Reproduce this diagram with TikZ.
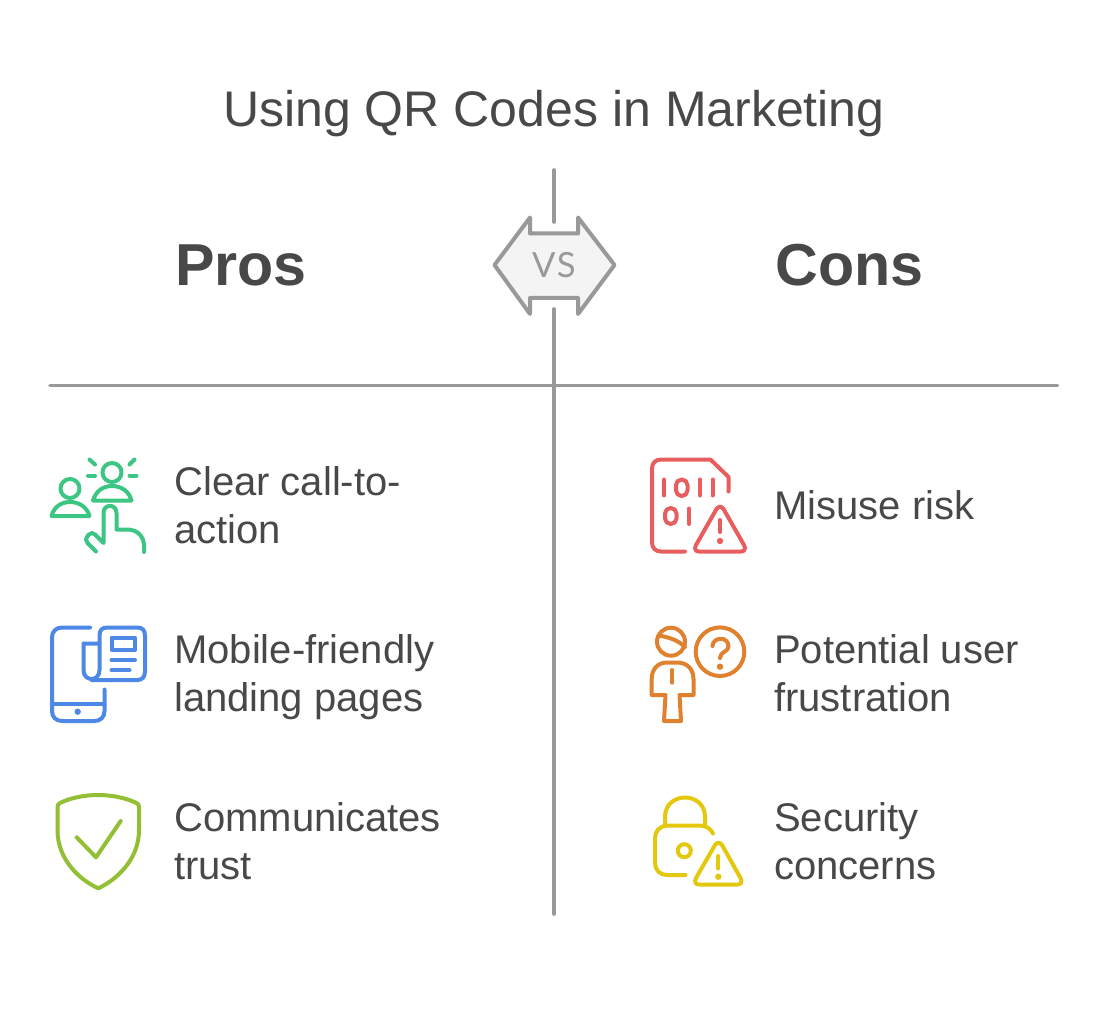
\documentclass[tikz,border=0pt]{standalone}
\usepackage{fontspec}
\setmainfont{Liberation Sans}
\newfontfamily\vsfont{Lato}
\definecolor{txt}{HTML}{484848}
\definecolor{rule}{HTML}{999999}
\definecolor{vsfill}{HTML}{F4F4F4}
\definecolor{igreen}{HTML}{3CC583}
\definecolor{iblue}{HTML}{4E88E7}
\definecolor{iolive}{HTML}{93BF35}
\definecolor{ired}{HTML}{E85E5E}
\definecolor{iorange}{HTML}{E0812F}
\definecolor{iyellow}{HTML}{E3C80D}
\tikzset{
  px/.style={x=0.75pt,y=-0.75pt},
  titletext/.style={inner sep=0pt,anchor=base,text=txt,font=\fontsize{37.5}{44}\selectfont},
  headtext/.style={inner sep=0pt,anchor=base west,text=txt,font=\fontsize{44.4}{54}\selectfont\bfseries},
  itemtext/.style={inner sep=0pt,anchor=west,align=left,text=txt,font=\fontsize{30}{36}\selectfont},
  rulel/.style={draw=rule,line width=2.7pt},
  iconl/.style={line width=3pt,line cap=round,line join=round},
}
\begin{document}
\begin{tikzpicture}[px]
\useasboundingbox (0,0) rectangle (1109,1012);
\node[titletext] (title) at (554,127) {Using QR Codes in Marketing};
\node[headtext] (pros) at (175,286) {Pros};
\node[headtext] (cons) at (775,286) {Cons};

% rules
\coordinate (vtop) at (554,170);
\coordinate (vtopend) at (554,222);
\coordinate (vbot) at (554,914);
\coordinate (vbotstart) at (554,309);
\coordinate (hl) at (50,385.5);
\coordinate (hr) at (1057.5,385.5);
\draw[rulel,line cap=round] (vtop) -- (vtopend);
\draw[rulel,line cap=round] (vbotstart) -- (vbot);
\draw[rulel,line cap=round] (hl) -- (hr);

% vs badge
\draw[rule,fill=vsfill,line width=3pt,line join=round]
  (494.5,265) -- (530,217.5) -- (530,233.5) -- (578,233.5) -- (578,217.5) -- (614.5,265)
  -- (578,314) -- (578,298) -- (530,298) -- (530,314) -- cycle;
\node[inner sep=0pt,text=rule,font=\fontsize{26}{30}\selectfont\vsfont] (vs) at (554,265.5) {V\kern1pt S};

% items
\node[itemtext] (i1) at (174,505) {Clear call-to-\\action};
\node[itemtext] (i2) at (174,677) {Mobile-friendly\\landing pages};
\node[itemtext] (i3) at (174,841) {Communicates\\trust};
\node[itemtext] (i4) at (774,505) {Misuse risk};
\node[itemtext] (i5) at (774,673) {Potential user\\frustration};
\node[itemtext] (i6) at (774,841) {Security\\concerns};

% icon 1: people and hand
\begin{scope}[iconl]
\draw[igreen] (70,488.5) circle (9.5);
\draw[igreen] (51.5,516) .. controls (54,507) and (61,502) .. (70,502) .. controls (79,502) and (87,507) .. (89.5,516) -- cycle;
\draw[igreen] (112,472.5) circle (9.5);
\draw[igreen] (93,500.5) .. controls (96,491) and (103,486) .. (112,486) .. controls (121,486) and (129,491) .. (131.5,500.5) -- cycle;
\draw[igreen] (89.5,459.5) -- (95,464.5);
\draw[igreen] (134.5,459.5) -- (129.5,464.5);
\draw[igreen] (88,475.5) -- (95,475.5);
\draw[igreen] (129.5,475.5) -- (136.5,475.5);
\draw[igreen] (96,551.5) -- (87.5,543) .. controls (85.5,541) and (85.5,538) .. (87.5,536) -- (89,534.5) .. controls (91,532.5) and (93,532.5) .. (95,534.5) -- (103.5,543)
  -- (103.5,513) .. controls (103.5,503.5) and (116.5,503.5) .. (116.5,513) -- (116.5,529.5) -- (127,529.5) .. controls (137,529.5) and (144,536) .. (144,546) -- (144,552);
\end{scope}

% icon 2: phone and newspaper
\begin{scope}[iconl]
\draw[iblue] (90,627.5) -- (62,627.5) .. controls (56,627.5) and (52,631.5) .. (52,637.5) -- (52,711) .. controls (52,717) and (56,721) .. (62,721) -- (94.5,721) .. controls (100.5,721) and (104.5,717) .. (104.5,711) -- (104.5,689.5);
\draw[iblue] (52,704) -- (104.5,704);
\fill[iblue] (77.7,711.7) circle (3.2);
\draw[iblue] (98.5,643.5) -- (83.5,643.5) -- (83.5,670) .. controls (83.5,682) and (99.5,682) .. (99.5,670) -- (99.5,636) .. controls (99.5,630) and (102,627.5) .. (107.5,627.5) -- (137,627.5) .. controls (142.5,627.5) and (145,630) .. (145,636) -- (145,671) .. controls (145,677) and (142.5,680) .. (137,680) -- (91.5,680);
\draw[iblue] (111.5,637.5) rectangle (135,650);
\draw[iblue] (111.5,660) -- (135,660);
\draw[iblue] (111.5,670) -- (129.5,670);
\end{scope}

% icon 3: shield
\begin{scope}[iconl]
\draw[iolive] (98.3,795) .. controls (84,795) and (70,798) .. (60,803) .. controls (58,804) and (57.5,805) .. (57.5,808) -- (57.5,830) .. controls (57.5,860) and (80,880) .. (98.3,888.3) .. controls (116,880) and (139,860) .. (139,830) -- (139,808) .. controls (139,805) and (138.5,804) .. (136.5,803) .. controls (126,798) and (112,795) .. (98.3,795) -- cycle;
\draw[iolive] (76.7,837.3) -- (96,857.3) -- (120.7,821);
\end{scope}

% icon 4: document with warning
\begin{scope}[iconl]
\draw[ired] (685,551.5) -- (661,551.5) .. controls (655.5,551.5) and (652,548) .. (652,542.5) -- (652,468.5) .. controls (652,463) and (655.5,459.5) .. (661,459.5) -- (710.5,459.5) -- (728.5,477) -- (728.5,491.5);
\draw[ired] (664,479.5) -- (664,495.5);
\draw[ired,rounded corners=4.2pt] (676,479.5) rectangle (687.5,496);
\draw[ired] (700,479.5) -- (700,495.5);
\draw[ired] (712.5,479.5) -- (712.5,495.5);
\draw[ired,rounded corners=4.2pt] (665,508) rectangle (676.5,524);
\draw[ired] (689,508.5) -- (689,524);
\draw[ired] (716.5,509) .. controls (718.5,506) and (721.5,506) .. (723.5,509) -- (744,545) .. controls (746,549) and (744.5,551.5) .. (741,551.5) -- (699,551.5) .. controls (695.5,551.5) and (694,549) .. (696,545) -- cycle;
\draw[ired] (720,520) -- (720,532);
\fill[ired] (720,541) circle (3.2);
\end{scope}

% icon 5: person with question
\begin{scope}[iconl]
\draw[iorange] (671,641.7) circle (14);
\draw[iorange] (658.5,635.5) .. controls (668,637) and (678,640) .. (685,647);
\draw[iorange] (720,651.7) circle (24.3);
\draw[iorange] (712.5,646) .. controls (713,636.5) and (728.5,636) .. (728.5,646.5) .. controls (728.5,652) and (720,651.5) .. (720,658);
\fill[iorange] (720,666.7) circle (3.2);
\draw[iorange] (651.7,695) -- (651.7,679) .. controls (651.7,669) and (658,662.5) .. (667,662.5) -- (677,662.5) .. controls (687,662.5) and (693.5,669) .. (693.5,679) -- (693.5,695) -- (679.5,695) -- (681,721) -- (664,721) -- (665.5,695) -- cycle;
\draw[iorange] (672.3,670) -- (672.3,682.7);
\end{scope}

% icon 6: lock with warning
\begin{scope}[iconl]
\draw[iyellow] (665,825.7) -- (665,817) .. controls (665,791) and (705,791) .. (705,817) -- (705,825.7);
\draw[iyellow] (685.5,875) -- (667,875) .. controls (660,875) and (655,870) .. (655,863) -- (655,838) .. controls (655,831) and (660,825.7) .. (667,825.7) -- (701,825.7) .. controls (706,825.7) and (711,829) .. (713,833.5);
\draw[iyellow] (684.3,850.7) circle (6.5);
\draw[iyellow] (715,845) .. controls (717,842) and (720,842) .. (722,845) -- (740.5,878) .. controls (742.5,882) and (741,884.5) .. (737.5,884.5) -- (699,884.5) .. controls (695.5,884.5) and (694,882) .. (696,878) -- cycle;
\draw[iyellow] (718.3,856) -- (718.3,868.5);
\fill[iyellow] (718.3,876.7) circle (3.2);
\end{scope}
\end{tikzpicture}
\end{document}
